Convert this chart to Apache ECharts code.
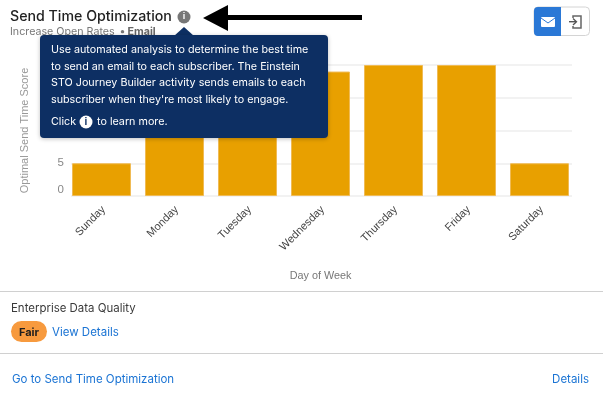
<!DOCTYPE html>
<html><head><meta charset="utf-8">
<style>html,body{margin:0;padding:0;background:#fff}#c{width:603px;height:400px}</style>
<script src="https://cdn.jsdelivr.net/npm/echarts@6/dist/echarts.min.js"></script>
</head><body><div id="c"></div>
<script>
const days = ['Sunday','Monday','Tuesday','Wednesday','Thursday','Friday','Saturday'];
const scores = [5,15,15,19,20,20,5];
const yTicks = ['0','5','','',''];
const tooltipLines = [
 'Use automated analysis to determine the best time',
 'to send an email to each subscriber. The Einstein',
 'STO Journey Builder activity sends emails to each',
 "subscriber when they're most likely to engage."
];
const F = '"Liberation Sans", Arial, sans-serif';
const I = 'Inter, "Liberation Sans", sans-serif';
const navy = '#0d2f63', blue = '#1b74d4';
const t = (x,y,text,size,fill,extra) => ({type:'text',z:100,x,y,style:Object.assign({text,font:`${size}px ${F}`,fill,textVerticalAlign:'middle'},extra||{})});
const line = (y) => ({type:'rect',z:100,shape:{x:0,y,width:603,height:1},style:{fill:'#d0d0d0'}});
const chart = echarts.init(document.getElementById('c'),null,{renderer:'canvas'});
const graphic = [
 t(10,17,'Send Time Optimization',14.2,'#222',{font:`500 14.2px ${I}`}),
 t(10,31.5,'Increase Open Rates',10.7,'#777',{font:`10.7px ${I}`}),
 t(119.5,31.5,'•',10.7,'#777',{font:`10.7px ${I}`}),
 t(127.5,31.5,'Email',10.7,'#666',{font:`bold 10.7px ${I}`}),
 {type:'circle',z:100,shape:{cx:184,cy:17,r:6.5},style:{fill:'#777'}},
 t(184,17,'i',9,'#fff',{font:`bold 9px ${F}`,textAlign:'center'}),
 {type:'polygon',z:100,shape:{points:[[203,18],[228,5],[228,15],[362,15],[362,20],[228,20],[228,31]]},style:{fill:'#000'}},
 {type:'polygon',z:110,shape:{points:[[174,36],[184,27],[194,36]]},style:{fill:navy}},
 {type:'rect',z:110,shape:{x:40,y:35,width:288,height:103,r:4},style:{fill:navy,shadowBlur:4,shadowColor:'rgba(0,0,0,0.25)',shadowOffsetY:1}},
 ...tooltipLines.map((s,i)=>({type:'text',z:120,x:51,y:50+i*16.5,style:{text:s,font:`10.75px ${I}`,fill:'#fff',textVerticalAlign:'middle'}})),
 {type:'text',z:120,x:51,y:122,style:{text:'Click',font:`10.75px ${I}`,fill:'#fff',textVerticalAlign:'middle'}},
 {type:'circle',z:120,shape:{cx:86,cy:122,r:6.5},style:{fill:'#fff'}},
 {type:'text',z:121,x:86,y:122,style:{text:'i',font:`bold 10px ${F}`,fill:navy,textAlign:'center',textVerticalAlign:'middle'}},
 {type:'text',z:120,x:97,y:122,style:{text:'to learn more.',font:`10.75px ${I}`,fill:'#fff',textVerticalAlign:'middle'}},
 // channel toggle
 {type:'rect',z:100,shape:{x:534,y:7,width:55.5,height:28.5,r:4},style:{fill:'#fff',stroke:'#d4d4d4',lineWidth:1}},
 {type:'rect',z:101,shape:{x:534,y:7,width:27,height:29,r:[4,0,0,4]},style:{fill:'#2a78d6'}},
 {type:'rect',z:102,shape:{x:541,y:17,width:14,height:10,r:1},style:{fill:'#fff'}},
 {type:'polyline',z:103,shape:{points:[[541,18],[548,23],[555,18]]},style:{fill:null,stroke:'#2a78d6',lineWidth:1}},
 {type:'polyline',z:102,shape:{points:[[573,18],[573,16],[581,16],[581,28],[573,28],[573,26]]},style:{fill:null,stroke:'#666',lineWidth:1.5}},
 {type:'rect',z:102,shape:{x:569,y:21,width:7,height:1.4},style:{fill:'#555'}},
 {type:'polyline',z:102,shape:{points:[[573,18.5],[576.5,21.7],[573,25]]},style:{fill:null,stroke:'#555',lineWidth:1.3}},
 // footer
 line(291), line(353),
 t(11,309,'Enterprise Data Quality',11.45,'#3a3a3a',{font:`11.45px ${I}`}),
 {type:'rect',z:100,shape:{x:11,y:321,width:36,height:21,r:10.5},style:{fill:'#f79a3e'}},
 t(29,332.5,'Fair',11,'#1e1e1e',{font:`bold 11px ${I}`,textAlign:'center'}),
 t(52,333,'View Details',11.5,blue,{font:`11.5px ${I}`}),
 t(12,380,'Go to Send Time Optimization',11.5,blue,{font:`11.5px ${I}`}),
 t(589,380,'Details',11.5,blue,{font:`11.5px ${I}`,textAlign:'right'})
];
chart.setOption({
 animation:false,
 graphic,
 grid:[{left:65,right:27,top:65,height:131},{left:71,right:31,top:65,height:131}],
 xAxis:[
  {type:'category',gridIndex:0,data:days,axisTick:{show:false},axisLine:{show:false},
   axisLabel:{rotate:45,color:'#444',fontFamily:F,fontSize:11,margin:14,interval:0,padding:[0,-3,0,0]},
   name:'Day of Week',nameLocation:'middle',nameGap:75,nameTextStyle:{color:'#777',fontFamily:F,fontSize:10.8}},
  {type:'value',gridIndex:1,min:0,max:1,show:false}
 ],
 yAxis:[
  {type:'value',gridIndex:0,min:0,max:20,interval:5,splitLine:{show:false},axisLine:{show:false},axisTick:{show:false},
   axisLabel:{color:'#888',fontFamily:F,fontSize:11.5,margin:1,verticalAlignMinLabel:'bottom',formatter:v=>yTicks[v/5]},
   name:'Optimal Send Time Score',nameLocation:'middle',nameGap:35,nameTextStyle:{color:'#999',fontFamily:F,fontSize:11}},
  {type:'value',gridIndex:1,min:0,max:20,interval:5,axisLine:{show:false},axisTick:{show:false},axisLabel:{show:false},
   splitLine:{show:true,lineStyle:{color:'#eeeeee',width:1.5}}}
 ],
 series:[{type:'bar',data:scores,xAxisIndex:0,yAxisIndex:0,barWidth:59,z:5,
   itemStyle:{color:'#e8a000',borderColor:'#f0bb55',borderWidth:1}}]
});
</script></body></html>
